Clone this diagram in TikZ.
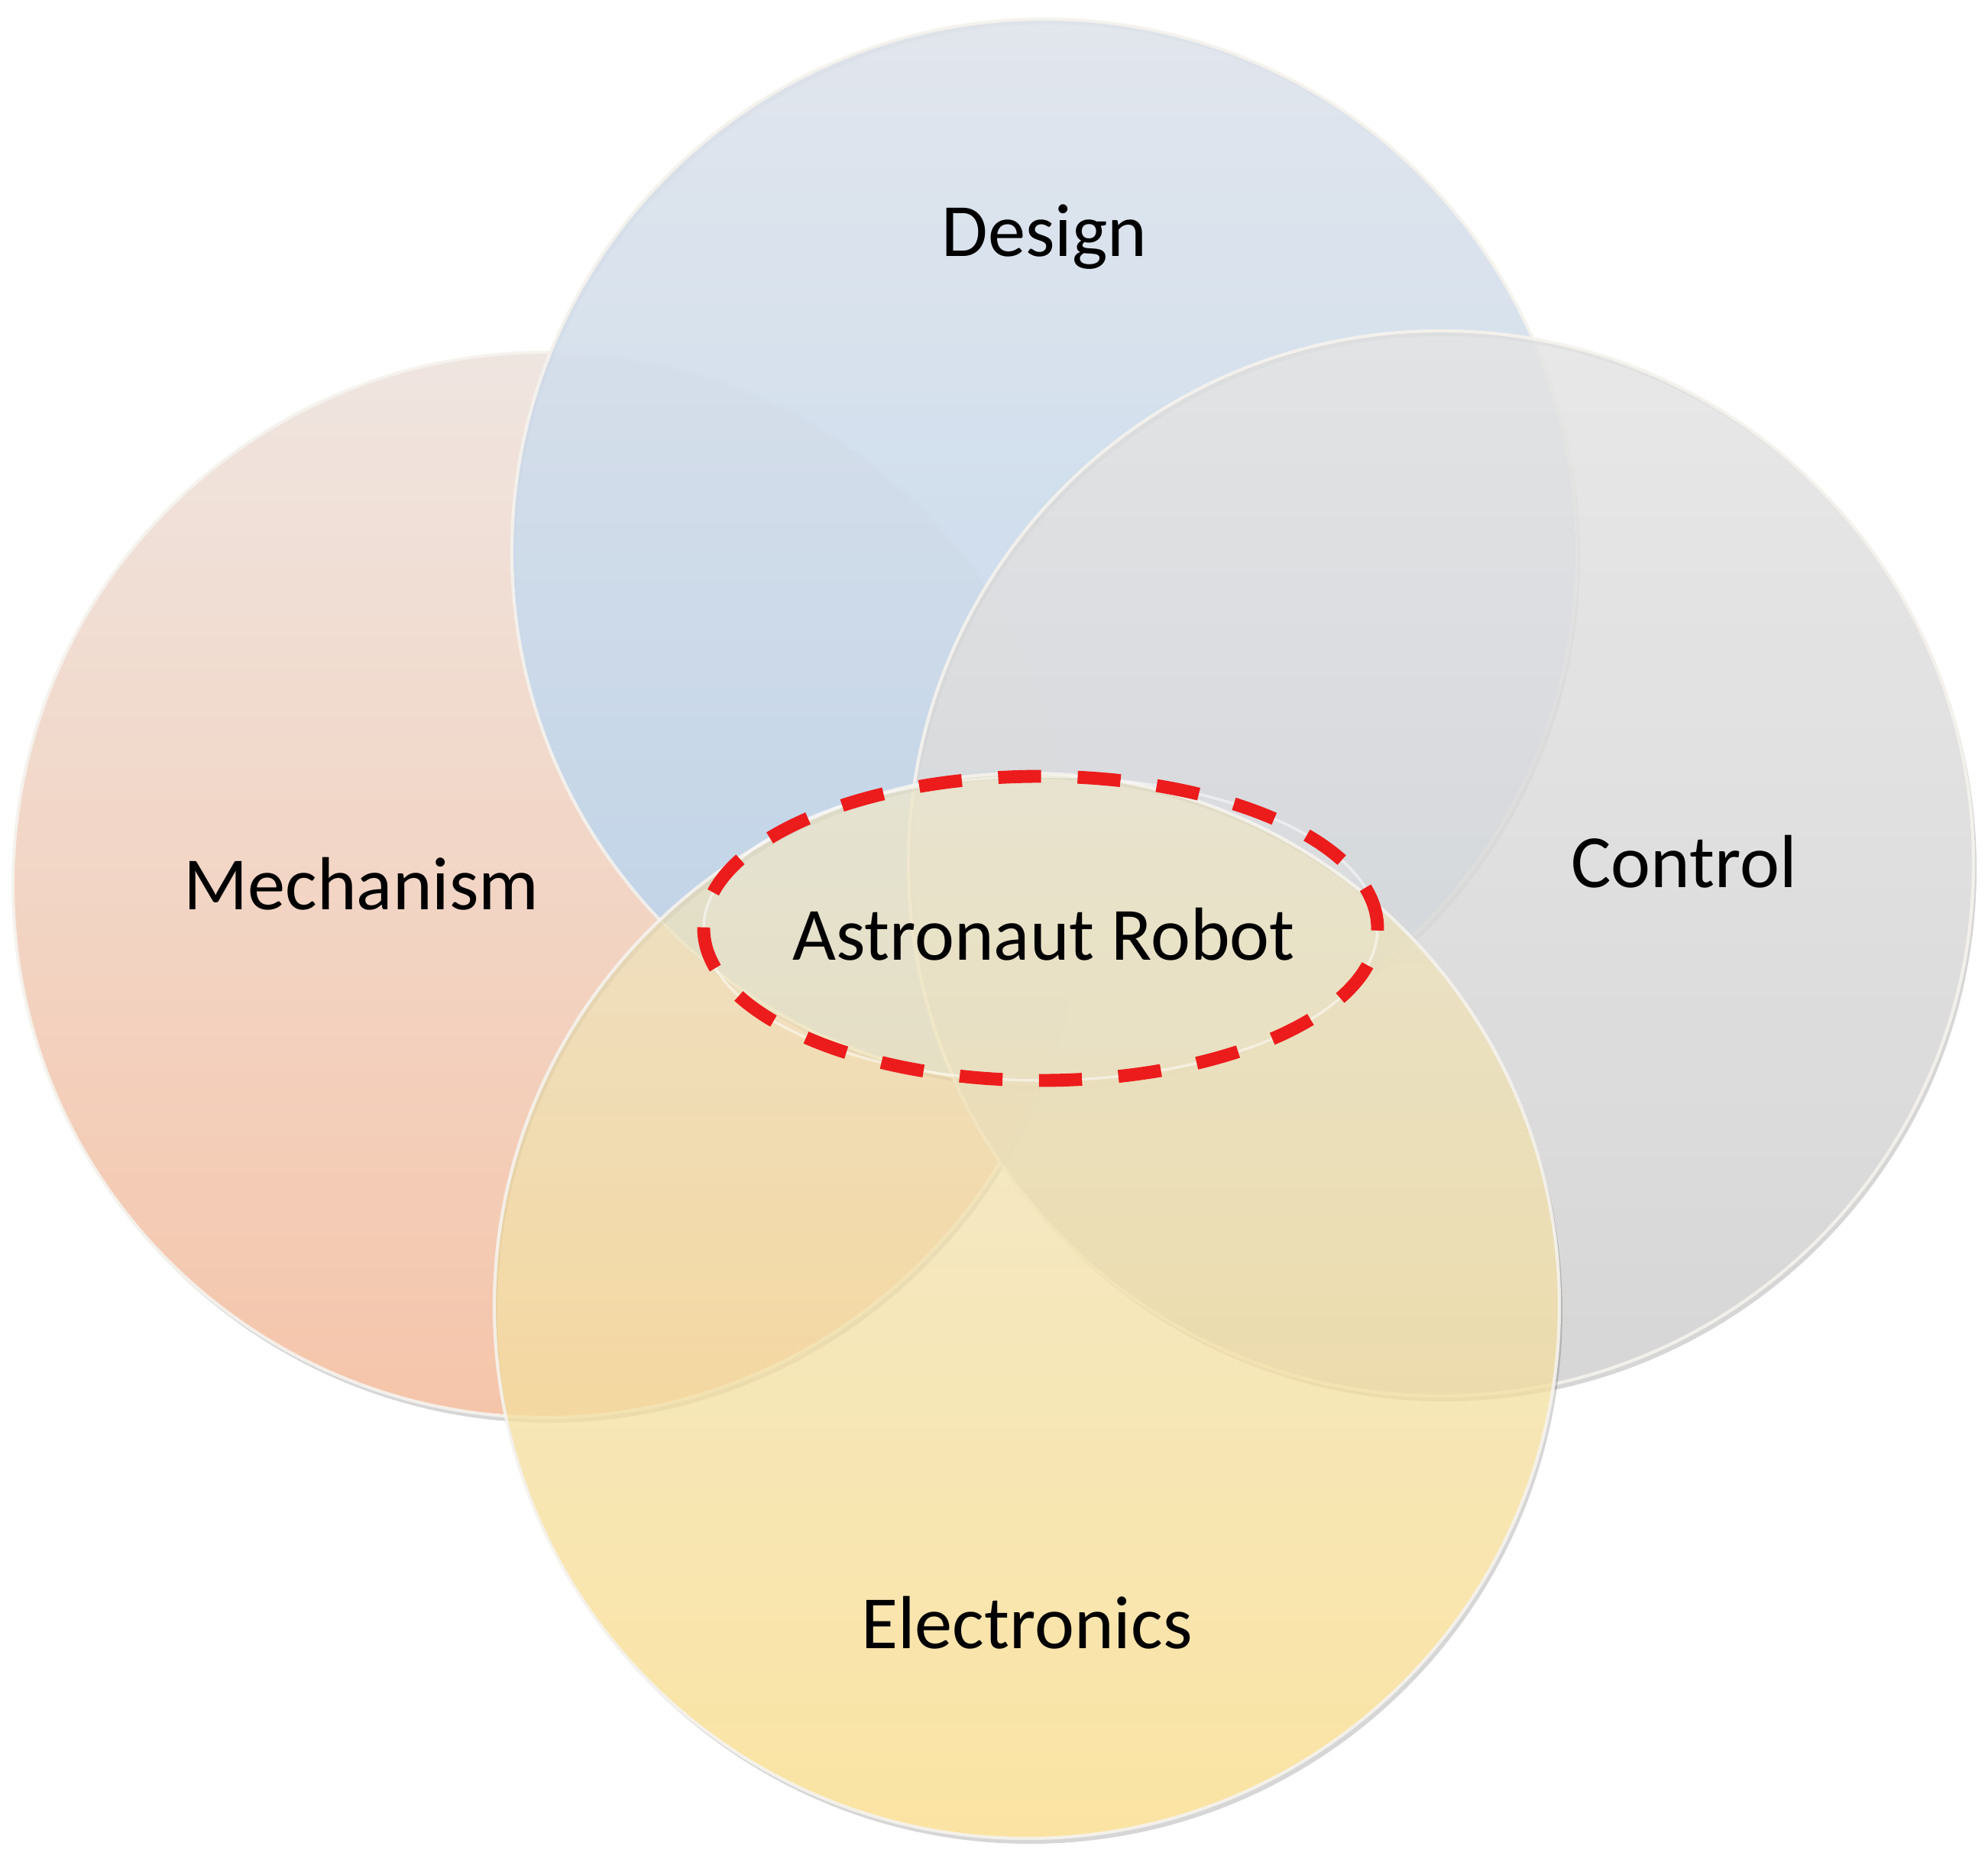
\documentclass[tikz,border=0pt]{standalone}
\usepackage{fontspec}
\setmainfont{Carlito}
\definecolor{mechtop}{HTML}{EFE5E0}
\definecolor{mechbot}{HTML}{F5C5AA}
\definecolor{destop}{HTML}{DFE4EC}
\definecolor{desbot}{HTML}{B8D2EC}
\definecolor{ctrltop}{HTML}{E4E4E4}
\definecolor{ctrlbot}{HTML}{D0D0D0}
\definecolor{electop}{HTML}{ECE4C6}
\definecolor{elecmid}{HTML}{EFDFB4}
\definecolor{elecbot}{HTML}{FADB84}
\definecolor{rimcol}{HTML}{F6F3EE}
\definecolor{corered}{HTML}{EC1C1C}
\begin{document}
\begin{tikzpicture}[
  shadow/.style={fill=black, opacity=0.16, even odd rule},
  rim/.style={draw=rimcol, line width=1.2pt, opacity=0.9},
  lbl/.style={font=\fontsize{28}{34}\selectfont, inner sep=0pt}
]
\useasboundingbox (0,0) rectangle (26.02,-24.29);
\fill[white] (0,0) rectangle (26.02,-24.29);
% Mechanism
\fill[shadow] (7.18,-11.65) circle (6.97) (7.14,-11.58) circle (6.97);
\shade[top color=mechtop, bottom color=mechbot] (7.14,-11.58) circle (6.97);
\draw[rim] (7.14,-11.58) circle (6.97);
% Design
\fill[shadow] (13.71,-7.29) circle (6.97) (13.67,-7.22) circle (6.97);
\shade[top color=destop, bottom color=desbot, fill opacity=0.9] (13.67,-7.22) circle (6.97);
\draw[rim] (13.67,-7.22) circle (6.97);
% Control
\fill[shadow] (18.90,-11.37) circle (6.97) (18.86,-11.30) circle (6.97);
\shade[top color=ctrltop, bottom color=ctrlbot, fill opacity=0.85] (18.86,-11.30) circle (6.97);
\draw[rim] (18.86,-11.30) circle (6.97);
% Electronics
\fill[shadow] (13.48,-17.16) circle (6.97) (13.44,-17.09) circle (6.97);
\shade[top color=electop, middle color=elecmid, bottom color=elecbot, fill opacity=0.75] (13.44,-17.09) circle (6.97);
\draw[rim] (13.44,-17.09) circle (6.97);
% labels
\node[lbl] (design) at (13.67,-3.10) {Design};
\node[lbl] (mechanism) at (4.73,-11.57) {Mechanism};
\node[lbl] (control) at (22.04,-11.28) {Control};
\node[lbl] (electronics) at (13.44,-21.24) {Electronics};
% core
\draw[white, line width=1pt, opacity=0.5, fill=white, fill opacity=0.08] (13.62,-12.15) ellipse (4.41 and 1.99);
\draw[corered, line width=4.8pt, dash pattern=on 16pt off 13.6pt] (13.62,-12.15) ellipse (4.41 and 1.99);
\node[lbl] (robot) at (13.66,-12.23) {Astronaut Robot};
\end{tikzpicture}
\end{document}
